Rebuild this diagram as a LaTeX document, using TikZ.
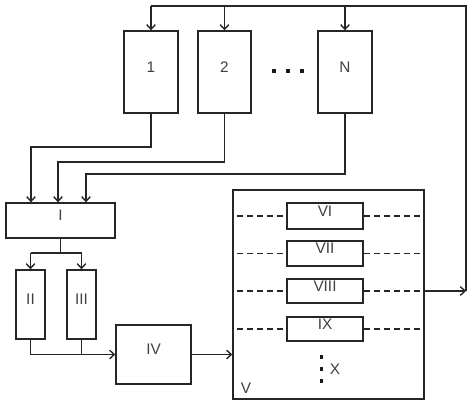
\documentclass[tikz,border=0pt]{standalone}
\usepackage{fontspec}
\setmainfont{Liberation Sans}
\usetikzlibrary{arrows.meta,fit}
\begin{document}
\begin{tikzpicture}[x=0.75pt,y=-0.75pt,
  line width=1.05pt, draw=black!85,
  box/.style={draw=black!85, line width=1.05pt, inner sep=0pt, font=\fontsize{11.5}{13}\selectfont, text=black!75},
  arr/.style={-{Straight Barb[length=3.5pt,width=6.5pt]}},
  dsh/.style={dash pattern=on 4.5pt off 3pt},
  lbl/.style={font=\fontsize{11.5}{13}\selectfont, text=black!75, inner sep=0pt}]
\useasboundingbox (0,0) rectangle (474,405);
% boxes
\node[box, fit={(124,31) (178,113)}] (b1) {1};
\node[box, fit={(198,31) (251,113)}] (b2) {2};
\node[box, fit={(318,31) (372,113)}] (bN) {N};
\node[box, fit={(6,203) (115,238)}] (bI) {I};
\node[box, fit={(16,270) (45,339)}] (bII) {II};
\node[box, fit={(67,270) (96,339)}] (bIII) {III};
\node[box, fit={(116,325) (191,384)}] (bIV) {IV};
\node[box, fit={(233,190) (424,399)}] (bV) {};
\node[lbl] (lV) at (246,388) {V};
\node[box, fit={(287,203) (363,229)}] (bVI) {VI};
\node[box, fit={(287,241) (363,266)}] (bVII) {VII};
\node[box, fit={(287,279) (363,303)}] (bVIII) {VIII};
\node[box, fit={(287,317) (363,341)}] (bIX) {IX};
\node[lbl] (lX) at (335,369) {X};
% dots
\foreach \x in {274,288,302} \fill[black!90] (\x-2,69) rectangle (\x+2,73);
\foreach \y in {357,369,381} \fill[black!90] (319.5,\y-1.7) rectangle (323,\y+1.7);
% coordinates
\coordinate (fbx) at (466,0);
\coordinate (top) at (0,6);
\coordinate (c1) at (31,147);
\coordinate (c2) at (58,162);
\coordinate (c3) at (86,174);
\coordinate (split) at (0,253);
\coordinate (dl) at (237,0);
% feedback
\draw[arr] (bV.east |- bVIII) -- (fbx |- bVIII);
\draw (fbx |- bVIII) -- (fbx |- top) -- (b1.north |- top);
\draw[arr] (b1.north |- top) -- (b1.north);
\draw[arr] (b2.north |- top) -- (b2.north);
\draw[arr] (bN.north |- top) -- (bN.north);
% to I
\draw[arr] (b1.south) |- (c1) -- (bI.north -| c1);
\draw[arr] (b2.south) |- (c2) -- (bI.north -| c2);
\draw[arr] (bN.south) |- (c3) -- (bI.north -| c3);
% I to II, III
\draw (bI.south) -- (bI.south |- split);
\draw (bII.north |- split) -- (bIII.north |- split);
\draw[arr] (bII.north |- split) -- (bII.north);
\draw[arr] (bIII.north |- split) -- (bIII.north);
% II, III to IV
\draw[arr] (bII.south) |- (bIV.west);
\draw (bIII.south) -- (bIII.south |- bIV.west);
% IV to V
\draw[arr] (bIV.east) -- (bV.west |- bIV.east);
% dashed
\foreach \n in {bVI,bVII,bVIII,bIX} {
  \draw[dsh] (dl |- \n.west) -- (\n.west);
  \draw[dsh] (\n.east) -- (bV.east |- \n.east);
}
\end{tikzpicture}
\end{document}
